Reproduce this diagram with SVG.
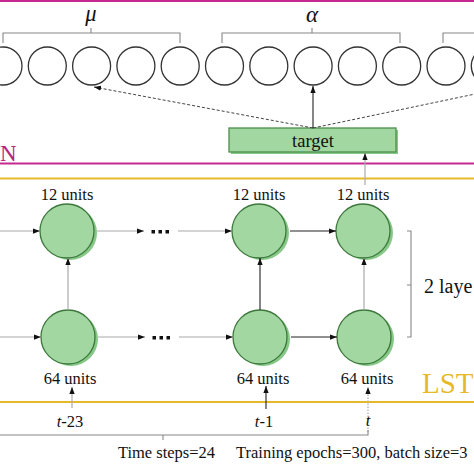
<svg xmlns="http://www.w3.org/2000/svg" width="474" height="474" viewBox="0 0 474 474">
<defs>
<marker id="ah" viewBox="0 0 8 6" refX="8" refY="3" markerWidth="7" markerHeight="5.5" markerUnits="userSpaceOnUse" orient="auto">
<path d="M0,0 L8,3 L0,6 Z" fill="#111"/>
</marker>
</defs>
<style>
text{font-family:"Liberation Serif","Times New Roman",serif;fill:#111}
.lbl{font-size:16.5px;text-anchor:middle}
.out{fill:#fff;stroke:#333;stroke-width:1.3}
.sh{fill:#86c886}
.nd{fill:#a2d7a2;stroke:#3c783c;stroke-width:1.3}
.gl{stroke:#aaa;stroke-width:1.2;fill:none}
.bl{stroke:#222;stroke-width:1.1;fill:none}
.br{stroke:#888;stroke-width:1.1;fill:none}
.dash{stroke:#444;stroke-width:1;stroke-dasharray:3,2;fill:none}
</style>
<rect width="474" height="474" fill="#fff"/>
<!-- band lines -->
<line x1="0" y1="1" x2="474" y2="1" stroke="#c5288f" stroke-width="2"/>
<line x1="0" y1="163.5" x2="474" y2="163.5" stroke="#c5288f" stroke-width="2"/>
<line x1="0" y1="178.5" x2="474" y2="178.5" stroke="#e7b92a" stroke-width="2"/>
<line x1="0" y1="402" x2="474" y2="402" stroke="#e7b92a" stroke-width="2"/>
<text x="0" y="161" font-size="23" style="fill:#b8237f">N</text>
<text x="422" y="393" font-size="29" style="fill:#e7b92a">LST</text>
<!-- output braces -->
<g id="braces">
<path class="br" d="M3,43 V33 H180 V43 M91,33 V28"/>
<path class="br" d="M222,43 V33 H400 V43 M312,33 V28"/>
<path class="br" d="M443,43 V33 H474"/>
<text x="91" y="20.5" font-size="22.5" font-style="italic" text-anchor="middle">μ</text>
<text x="312" y="21.5" font-size="23" font-style="italic" text-anchor="middle">α</text>
</g>
<!-- output neurons -->
<g id="outputs">
<circle class="out" cx="3" cy="66" r="19"/>
<circle class="out" cx="47.3" cy="66" r="19"/>
<circle class="out" cx="91.6" cy="66" r="19"/>
<circle class="out" cx="135.9" cy="66" r="19"/>
<circle class="out" cx="180.2" cy="66" r="19"/>
<circle class="out" cx="224.5" cy="66" r="19"/>
<circle class="out" cx="268.8" cy="66" r="19"/>
<circle class="out" cx="313.1" cy="66" r="19"/>
<circle class="out" cx="357.4" cy="66" r="19"/>
<circle class="out" cx="401.7" cy="66" r="19"/>
<circle class="out" cx="446" cy="66" r="19"/>
<circle class="out" cx="490.3" cy="66" r="19"/>
</g>
<!-- target -->
<g id="target">
<rect x="231" y="130" width="167" height="24" class="sh"/>
<rect x="229" y="128" width="167" height="24" class="nd" style="stroke:#4d8f4d"/>
<text x="313" y="147" font-size="18.5" text-anchor="middle">target</text>
</g>
<!-- LSTM nodes -->
<g id="n_top_1"><circle class="sh" cx="70" cy="233" r="27"/><circle class="nd" cx="67" cy="231" r="27"/><text class="lbl" x="67" y="200">12 units</text></g>
<g id="n_top_2"><circle class="sh" cx="262" cy="233" r="27"/><circle class="nd" cx="259" cy="231" r="27"/><text class="lbl" x="259" y="200">12 units</text></g>
<g id="n_top_3"><circle class="sh" cx="366" cy="233" r="27"/><circle class="nd" cx="363" cy="231" r="27"/><text class="lbl" x="363" y="200">12 units</text></g>
<g id="n_bot_1"><circle class="sh" cx="71" cy="339" r="27"/><circle class="nd" cx="68" cy="337" r="27"/><text class="lbl" x="70" y="384">64 units</text></g>
<g id="n_bot_2"><circle class="sh" cx="263" cy="339" r="27"/><circle class="nd" cx="260" cy="337" r="27"/><text class="lbl" x="263" y="384">64 units</text></g>
<g id="n_bot_3"><circle class="sh" cx="367" cy="339" r="27"/><circle class="nd" cx="364" cy="337" r="27"/><text class="lbl" x="367" y="384">64 units</text></g>
<!-- connectors -->
<g id="connectors">
<line class="dash" x1="313" y1="128" x2="94" y2="87" marker-end="url(#ah)"/>
<line class="dash" x1="313" y1="128" x2="480" y2="93"/>
<line class="bl" x1="313" y1="128" x2="313" y2="86" marker-end="url(#ah)"/>
<line class="gl" x1="365" y1="185" x2="365" y2="153" marker-end="url(#ah)"/>
<!-- top row -->
<line class="gl" x1="0" y1="231" x2="40" y2="231" marker-end="url(#ah)"/>
<line class="gl" x1="97" y1="231" x2="144" y2="231" marker-end="url(#ah)"/>
<line class="gl" x1="178" y1="231" x2="232" y2="231" marker-end="url(#ah)"/>
<line class="bl" x1="290" y1="231" x2="336" y2="231" marker-end="url(#ah)"/>
<!-- bottom row -->
<line class="gl" x1="0" y1="337" x2="41" y2="337" marker-end="url(#ah)"/>
<line class="gl" x1="98" y1="337" x2="145" y2="337" marker-end="url(#ah)"/>
<line class="gl" x1="179" y1="337" x2="233" y2="337" marker-end="url(#ah)"/>
<line class="bl" x1="291" y1="337" x2="337" y2="337" marker-end="url(#ah)"/>
<!-- dots -->
<g fill="#111"><rect x="151.5" y="230" width="3.5" height="3.5"/><rect x="158.5" y="230" width="3.5" height="3.5"/><rect x="165.5" y="230" width="3.5" height="3.5"/>
<rect x="152.5" y="336" width="3.5" height="3.5"/><rect x="159.5" y="336" width="3.5" height="3.5"/><rect x="166.5" y="336" width="3.5" height="3.5"/></g>
<!-- vertical -->
<line class="gl" x1="68" y1="310" x2="68" y2="258" marker-end="url(#ah)"/>
<line class="bl" x1="260" y1="310" x2="260" y2="258" marker-end="url(#ah)"/>
<line class="gl" x1="364" y1="310" x2="364" y2="258" marker-end="url(#ah)"/>
<!-- inputs -->
<line class="gl" x1="72" y1="408" x2="72" y2="387" marker-end="url(#ah)"/>
<line class="bl" x1="266" y1="409" x2="266" y2="386" marker-end="url(#ah)"/>
<line class="gl" x1="368" y1="432" x2="368" y2="387" stroke-dasharray="1.5,1.5" marker-end="url(#ah)"/>
</g>
<!-- right brace -->
<g id="layers">
<path class="br" d="M407,231 H411 V337 H407 M411,285 H407"/>
<text x="424" y="293" font-size="20">2 laye</text>
</g>
<!-- time axis -->
<g id="time">
<path class="br" d="M0,435 H368 V430 M163,435 V440"/>
<text class="lbl" x="70" y="427"><tspan font-style="italic">t</tspan>-23</text>
<text class="lbl" x="264" y="427"><tspan font-style="italic">t</tspan>-1</text>
<text class="lbl" x="368" y="426" font-style="italic">t</text>
<text class="lbl" x="166.5" y="458">Time steps=24</text>
<text x="236" y="458" font-size="16.5">Training epochs=300, batch size=3</text>
</g>
</svg>
